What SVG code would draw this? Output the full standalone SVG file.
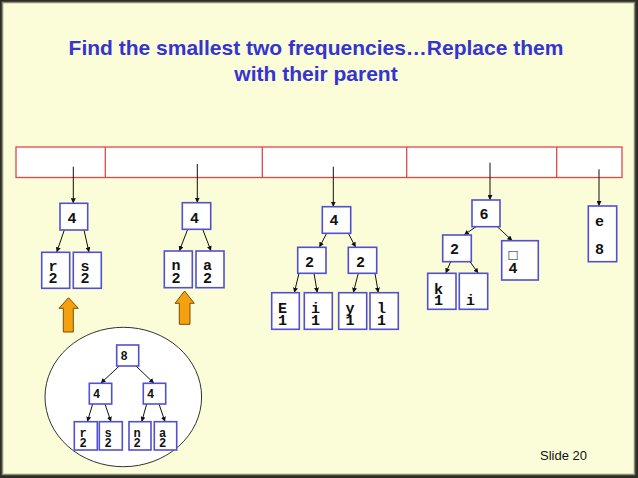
<svg xmlns="http://www.w3.org/2000/svg" width="638" height="478" viewBox="0 0 638 478">
<defs>
<marker id="ah" viewBox="0 0 10 10" refX="10" refY="5" markerWidth="5" markerHeight="5" orient="auto" markerUnits="userSpaceOnUse">
<path d="M0,0 L10,5 L0,10 z" fill="#111"/>
</marker>
<style>
.nd{fill:#fff;stroke:#5050D0;stroke-width:1.6}
.tb{fill:#fff;stroke:#E04848;stroke-width:1.3}
.t{font-family:"Liberation Mono","DejaVu Sans Mono",monospace;font-weight:bold;font-size:15px;fill:#111}
.ts{font-family:"Liberation Mono","DejaVu Sans Mono",monospace;font-weight:bold;font-size:12px;fill:#111}
.c line{stroke:#111;stroke-width:1;marker-end:url(#ah)}
.ttl{font-family:"Liberation Sans",Arial,sans-serif;font-weight:bold;font-size:21px;fill:#3434D0;text-anchor:middle}
.ar{fill:#F5A00F;stroke:#7A5000;stroke-width:1}
</style>
</defs>
<rect x="0" y="0" width="638" height="478" fill="#2E2E28"/>
<rect x="2.5" y="2.5" width="632" height="472" fill="#FBFCD8" stroke="#8C8C78" stroke-width="1.5"/>
<g id="title">
<text class="ttl" x="316" y="54.5">Find the smallest two frequencies…Replace them</text>
<text class="ttl" x="316" y="80.5">with their parent</text>
</g>
<g id="table">
<rect class="tb" x="16" y="147" width="606" height="30.5"/>
<line x1="105.3" y1="147" x2="105.3" y2="177.5" stroke="#E04848" stroke-width="1.3"/>
<line x1="262.3" y1="147" x2="262.3" y2="177.5" stroke="#E04848" stroke-width="1.3"/>
<line x1="406.7" y1="147" x2="406.7" y2="177.5" stroke="#E04848" stroke-width="1.3"/>
<line x1="556.7" y1="147" x2="556.7" y2="177.5" stroke="#E04848" stroke-width="1.3"/>
</g>
<g id="merged-circle">
<ellipse cx="123.3" cy="397" rx="78.3" ry="69.7" fill="#fff" stroke="#333" stroke-width="1"/>
</g>
<g id="connectors" class="c">
<line x1="73.3" y1="166.7" x2="73.3" y2="203.3"/>
<line x1="64.3" y1="230" x2="56.7" y2="252.3"/>
<line x1="84" y1="230" x2="89" y2="252.3"/>
<line x1="197.3" y1="164" x2="197.3" y2="202.7"/>
<line x1="187.7" y1="229.3" x2="179.3" y2="251"/>
<line x1="202.7" y1="229.3" x2="211" y2="251"/>
<line x1="333.3" y1="166.7" x2="333.3" y2="206.7"/>
<line x1="326.7" y1="233.3" x2="319.3" y2="247.3"/>
<line x1="348.3" y1="233.3" x2="355.7" y2="247.3"/>
<line x1="299" y1="273.3" x2="294.3" y2="292.7"/>
<line x1="314" y1="273.3" x2="317.3" y2="292.7"/>
<line x1="358.3" y1="273.3" x2="353.3" y2="292.7"/>
<line x1="375" y1="273.3" x2="378.3" y2="292.7"/>
<line x1="490" y1="162.7" x2="490" y2="200"/>
<line x1="476" y1="226.7" x2="464" y2="235"/>
<line x1="497.3" y1="226.7" x2="512.3" y2="240.7"/>
<line x1="450.7" y1="261.7" x2="445.7" y2="273.3"/>
<line x1="470" y1="261.7" x2="478.3" y2="273.3"/>
<line x1="599" y1="169.3" x2="599" y2="206"/>
<line x1="119.3" y1="366" x2="100.7" y2="383.3"/>
<line x1="136" y1="366" x2="154" y2="383.3"/>
<line x1="92.7" y1="404" x2="87.3" y2="421.7"/>
<line x1="105" y1="404" x2="111" y2="421.7"/>
<line x1="146.7" y1="404" x2="141.7" y2="421.7"/>
<line x1="159" y1="404" x2="165" y2="421.7"/>
</g>
<g id="tree1">
<g id="n-t1-4"><rect class="nd" x="60" y="203.3" width="27.7" height="26.7"/><text class="t" x="67.5" y="223.3">4</text></g>
<g id="n-t1-r"><rect class="nd" x="41.7" y="252.3" width="28" height="36"/><text class="t" x="48.5" y="271">r<tspan x="48.5" dy="12.3">2</tspan></text></g>
<g id="n-t1-s"><rect class="nd" x="73.3" y="252.3" width="28" height="36"/><text class="t" x="80.5" y="271">s<tspan x="80.5" dy="12.3">2</tspan></text></g>
</g>
<g id="tree2">
<g id="n-t2-4"><rect class="nd" x="182.3" y="202.7" width="28.4" height="26.6"/><text class="t" x="190" y="222.7">4</text></g>
<g id="n-t2-n"><rect class="nd" x="164.3" y="251" width="28" height="36.7"/><text class="t" x="171.5" y="270">n<tspan x="171.5" dy="12.5">2</tspan></text></g>
<g id="n-t2-a"><rect class="nd" x="196" y="251" width="28" height="36.7"/><text class="t" x="203" y="270">a<tspan x="203" dy="12.5">2</tspan></text></g>
</g>
<g id="arrow1"><path class="ar" d="M63.3,332 L63.3,308.3 L59,308.3 L68.5,297.7 L78.3,308.3 L73.3,308.3 L73.3,332 z"/></g>
<g id="arrow2"><path class="ar" d="M179.3,324.3 L179.3,303.3 L175,303.3 L184.6,291 L194.3,303.3 L190,303.3 L190,324.3 z"/></g>
<g id="tree3">
<g id="n-t3-4"><rect class="nd" x="322.3" y="206.7" width="28.4" height="26.6"/><text class="t" x="329.5" y="225">4</text></g>
<g id="n-t3-2a"><rect class="nd" x="297.7" y="247.3" width="28.3" height="26"/><text class="t" x="305" y="266.7">2</text></g>
<g id="n-t3-2b"><rect class="nd" x="348.3" y="247.3" width="28.4" height="26"/><text class="t" x="356" y="266.7">2</text></g>
<g id="n-t3-E"><rect class="nd" x="271.7" y="292.7" width="27.6" height="36.6"/><text class="t" x="278" y="313.3">E<tspan x="278" dy="11.7">1</tspan></text></g>
<g id="n-t3-i"><rect class="nd" x="304.3" y="292.7" width="28" height="36.6"/><text class="t" x="311" y="313.3">i<tspan x="311" dy="11.7">1</tspan></text></g>
<g id="n-t3-y"><rect class="nd" x="338.7" y="292.7" width="28" height="36.6"/><text class="t" x="345.5" y="313.3">y<tspan x="345.5" dy="11.7">1</tspan></text></g>
<g id="n-t3-l"><rect class="nd" x="370" y="292.7" width="28.3" height="36.6"/><text class="t" x="377" y="313.3">l<tspan x="377" dy="11.7">1</tspan></text></g>
</g>
<g id="tree4">
<g id="n-t4-6"><rect class="nd" x="472" y="200" width="28" height="26.7"/><text class="t" x="479.5" y="219.3">6</text></g>
<g id="n-t4-2"><rect class="nd" x="442.7" y="235" width="28.6" height="26.7"/><text class="t" x="450" y="254">2</text></g>
<g id="n-t4-sp"><rect class="nd" x="501.7" y="240.7" width="36.6" height="39.3"/><text class="t" x="508.5" y="260">□<tspan x="508.5" dy="12.7">4</tspan></text></g>
<g id="n-t4-k"><rect class="nd" x="427.7" y="273.3" width="28.3" height="36"/><text class="t" x="434" y="294">k<tspan x="434" dy="11">1</tspan></text></g>
<g id="n-t4-i"><rect class="nd" x="459.3" y="273.3" width="28.4" height="36"/><text class="t" x="466" y="305">i</text></g>
</g>
<g id="n-e"><rect class="nd" x="588.3" y="206" width="28.4" height="55.7"/><text class="t" x="595" y="226">e</text><text class="t" x="595" y="254">8</text></g>
<g id="merged">
<g id="n-m-8"><rect class="nd" x="116.7" y="345" width="22" height="21"/><text class="ts" x="120.5" y="360">8</text></g>
<g id="n-m-4a"><rect class="nd" x="89.3" y="383.3" width="22.4" height="20.7"/><text class="ts" x="93" y="398.3">4</text></g>
<g id="n-m-4b"><rect class="nd" x="143.3" y="383.3" width="22.4" height="20.7"/><text class="ts" x="147" y="398.3">4</text></g>
<g id="n-m-r"><rect class="nd" x="74.3" y="421.7" width="23" height="28.3"/><text class="ts" x="79.5" y="437">r<tspan x="79.5" dy="9.5">2</tspan></text></g>
<g id="n-m-s"><rect class="nd" x="99.3" y="421.7" width="23" height="28.3"/><text class="ts" x="104.5" y="437">s<tspan x="104.5" dy="9.5">2</tspan></text></g>
<g id="n-m-n"><rect class="nd" x="129" y="421.7" width="22" height="28.3"/><text class="ts" x="133.5" y="437">n<tspan x="133.5" dy="9.5">2</tspan></text></g>
<g id="n-m-a"><rect class="nd" x="154.3" y="421.7" width="22.4" height="28.3"/><text class="ts" x="159" y="437">a<tspan x="159" dy="9.5">2</tspan></text></g>
</g>
<text x="540" y="460" font-family="'Liberation Sans',Arial,sans-serif" font-size="13px" fill="#111">Slide 20</text>
</svg>
